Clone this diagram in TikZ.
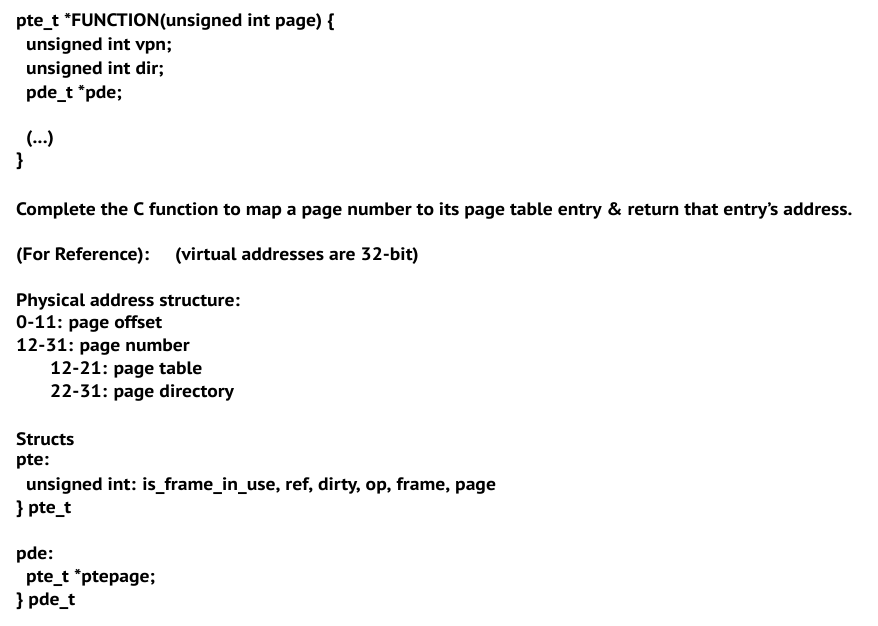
\documentclass[tikz,border=0pt]{standalone}
\usepackage{fontspec}
\setmainfont[FakeStretch=1.09]{PT Sans}
\begin{document}
\begin{tikzpicture}[x=1pt,y=-1pt,t/.style={anchor=west,inner sep=0pt,font=\fontsize{18}{20}\selectfont\bfseries}]
\useasboundingbox (0,0) rectangle (878,625);
\node[t] (l1) at (16,22) {pte\_t *FUNCTION(unsigned int page) \{};
\node[t] (l2) at (26,46) {unsigned int vpn;};
\node[t] (l3) at (26,70) {unsigned int dir;};
\node[t] (l4) at (26,94) {pde\_t *pde;};
\node[t] (l5) at (26,139) {(...)};
\node[t] (l6) at (16,161) {\}};
\node[t] (l7) at (16,211) {Complete the C function to map a page number to its page table entry \& return that entry's address.};
\node[t] (l8) at (16,256) {(For Reference):};
\node[t] (l8b) at (175,256) {(virtual addresses are 32-bit)};
\node[t] (l9) at (16,302) {Physical address structure:};
\node[t] (l10) at (16,324) {0-11: page offset};
\node[t] (l11) at (16,347) {12-31: page number};
\node[t] (l12) at (50,370) {12-21: page table};
\node[t] (l13) at (50,393) {22-31: page directory};
\node[t] (l14) at (16,439) {Structs};
\node[t] (l15) at (16,462) {pte:};
\node[t] (l16) at (26,486) {unsigned int: is\_frame\_in\_use, ref, dirty, op, frame, page};
\node[t] (l17) at (16,509) {\} pte\_t};
\node[t] (l18) at (16,555) {pde:};
\node[t] (l19) at (26,578) {pte\_t *ptepage;};
\node[t] (l20) at (16,601) {\} pde\_t};
\end{tikzpicture}
\end{document}
